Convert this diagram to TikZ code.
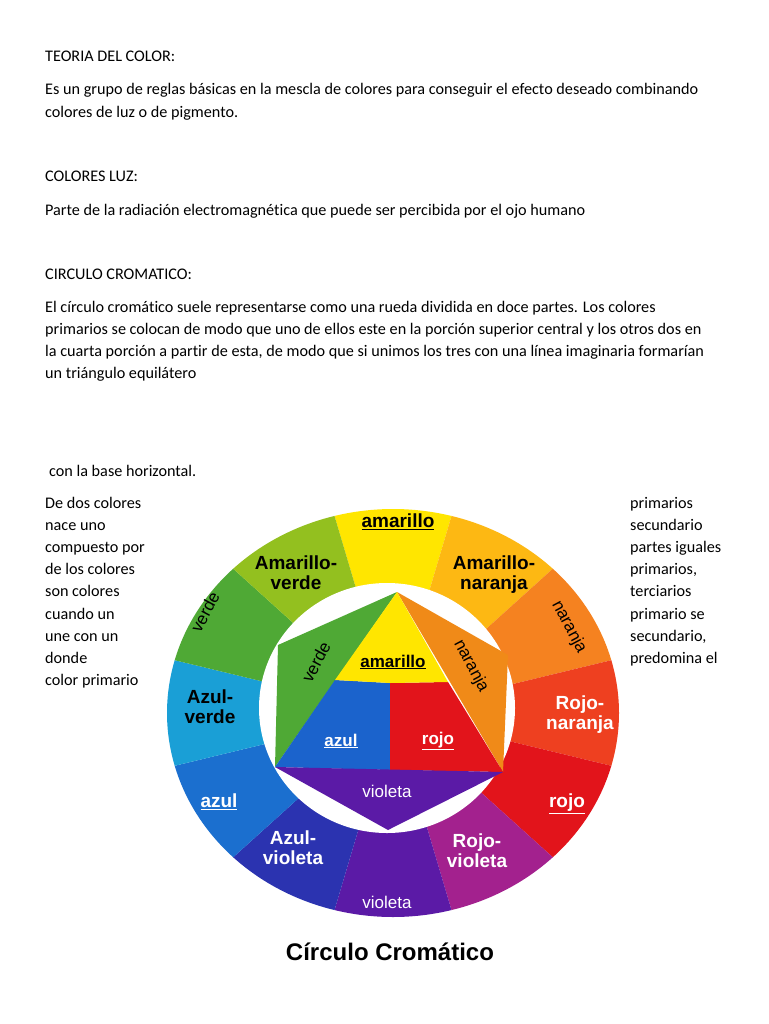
\documentclass[tikz,border=0pt]{standalone}
\usepackage{fontspec}
\setmainfont[Ligatures=NoCommon]{Carlito}
\newfontfamily\arial{Liberation Sans}
\begin{document}
\begin{tikzpicture}[x=1pt,y=1pt,
  txt/.style={anchor=base west,inner sep=0pt,font=\fontsize{16.2}{18}\selectfont},
  lb/.style={font=\arial\bfseries\fontsize{19}{20}\selectfont,align=center,inner sep=0pt},
  ln/.style={font=\arial\fontsize{17}{18}\selectfont,align=center,inner sep=0pt}]
\useasboundingbox[fill=white] (0,0) rectangle (768,-1024);
\node[txt] (t1) at (45,-62) {TEORIA DEL COLOR:};
\node[txt] (t2) at (45,-95) {Es un grupo de reglas básicas en la mescla de colores para conseguir el efecto deseado combinando};
\node[txt] (t3) at (45,-118) {colores de luz o de pigmento.};
\node[txt] (t4) at (45,-182) {COLORES LUZ:};
\node[txt] (t5) at (45,-215) {Parte de la radiación electromagnética que puede ser percibida por el ojo humano};
\node[txt] (t6) at (45,-279) {CIRCULO CROMATICO:};
\node[txt] (t7) at (45,-312) {El círculo cromático suele representarse como una rueda dividida en doce partes. Los colores};
\node[txt] (t8) at (45,-334) {primarios se colocan de modo que uno de ellos este en la porción superior central y los otros dos en};
\node[txt] (t9) at (45,-356) {la cuarta porción a partir de esta, de modo que si unimos los tres con una línea imaginaria formarían};
\node[txt] (t10) at (45,-378) {un triángulo equilátero};
\node[txt] (t11) at (49,-476) {con la base horizontal.};
\foreach \s [count=\i] in {De dos colores,nace uno,compuesto por,de los colores,son colores,cuando un,une con un,donde,color primario}
  \node[txt] (l\i) at (45,{-508-22.2*(\i-1)}) {\s};
\foreach \s [count=\i] in {primarios,secundario,partes iguales,{primarios,},terciarios,primario se,{secundario,},predomina el}
  \node[txt] (r\i) at (630,{-508-22.2*(\i-1)}) {\s};
% outer wheel
\coordinate (C) at (393,-713);
\foreach \a/\c in {90/FFE600,60/FDB813,30/F58220,0/EE4020,-30/E2141B,-60/A3218E,-90/5B1AA6,-120/2B33B0,-150/1B6FCF,180/1A9FD6,150/4FA935,120/93C01F}{
  \definecolor{cc}{HTML}{\c}
  \fill[cc] (C) -- ++({226*cos(\a-15)},{204*sin(\a-15)}) arc[start angle=\a-15,end angle=\a+15,x radius=226,y radius=204] -- cycle;
}
\fill[white] (387,-708) ellipse[x radius=128,y radius=125];
% inner hexagon
\coordinate (T) at (397,-592); \coordinate (UL) at (278,-645); \coordinate (UR) at (508,-655);
\coordinate (LR) at (503,-772); \coordinate (LL) at (275,-767); \coordinate (B) at (388,-830);
\coordinate (YL) at (335,-680); \coordinate (YR) at (448,-682); \coordinate (M) at (390,-683); \coordinate (MB) at (390,-770);
\definecolor{ig}{HTML}{4FA935}\fill[ig] (T) -- (UL) -- (LL) -- cycle;
\definecolor{io}{HTML}{F08A18}\fill[io] (T) -- (UR) -- (LR) -- cycle;
\definecolor{ib}{HTML}{1B63CC}\fill[ib] (YL) -- (M) -- (MB) -- (LL) -- cycle;
\definecolor{ir}{HTML}{E2141B}\fill[ir] (YR) -- (M) -- (MB) -- (LR) -- cycle;
\definecolor{iv}{HTML}{5B1AA6}\fill[iv] (LL) -- (LR) -- (B) -- cycle;
\definecolor{iy}{HTML}{FFE600}\fill[iy] (T) -- (YR) -- (M) -- (YL) -- cycle;
% outer labels
\node[lb] (o1) at (398,-522) {\underline{amarillo}};
\node[lb] (o2) at (494,-575) {Amarillo-\\naranja};
\node[ln,rotate=-62] (o3) at (569,-627) {naranja};
\node[lb,white] (o4) at (580,-715) {Rojo-\\naranja};
\node[lb,white] (o5) at (567,-804) {\underline{rojo}};
\node[lb,white] (o6) at (477,-851) {Rojo-\\violeta};
\node[ln,white] (o7) at (387,-902) {violeta};
\node[lb,white] (o8) at (293,-848) {Azul-\\violeta};
\node[lb,white] (o9) at (219,-802) {\underline{azul}};
\node[lb] (o10) at (210,-707) {Azul-\\verde};
\node[ln,rotate=62] (o11) at (205,-612) {verde};
\node[lb] (o12) at (296,-573) {Amarillo-\\verde};
% inner labels
\node[lb,font=\arial\bfseries\fontsize{17}{18}\selectfont] (i1) at (393,-662) {\underline{amarillo}};
\node[ln,rotate=62] (i2) at (316,-662) {verde};
\node[ln,rotate=-62] (i3) at (471,-666) {naranja};
\node[lb,white,font=\arial\bfseries\fontsize{17}{18}\selectfont] (i4) at (341,-741) {\underline{azul}};
\node[lb,white,font=\arial\bfseries\fontsize{17}{18}\selectfont] (i5) at (438,-741) {\underline{rojo}};
\node[ln,white] (i6) at (387,-791) {violeta};
\node[font=\arial\fontsize{24}{26}\selectfont\bfseries,inner sep=0pt] (title) at (390,-952) {Círculo Cromático};
\end{tikzpicture}
\end{document}
